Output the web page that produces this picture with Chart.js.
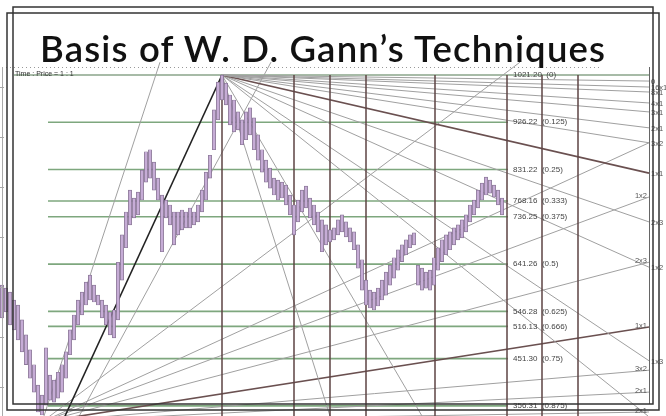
<!DOCTYPE html>
<html><head><meta charset="utf-8">
<script src="https://cdn.jsdelivr.net/npm/chart.js@4.4.0/dist/chart.umd.min.js"></script>
<style>
html,body{margin:0;padding:0;background:#fff;}
#wrap{position:relative;width:666px;height:416px;overflow:hidden;background:#fff;}
#c{position:absolute;left:0;top:0;}
#title{position:absolute;left:40px;top:24px;font-family:'Lato',sans-serif;font-size:36.5px;font-weight:600;color:#111;white-space:nowrap;line-height:1;}
</style></head>
<body><div id="wrap"><canvas id="c" width="666" height="416"></canvas><div id="title">Basis of W. D. Gann’s Techniques</div></div>
<script>
// ---- price bars (one bar per time unit) ----
const highs = [599,593,585,569,559,529,499,469,439,398,378,473,418,408,424,439,465,509,539,569,
  585,605,619,599,579,569,559,545,549,645,700,746,790,774,786,830,867,871,846,814,
  780,770,760,746,746,750,746,754,746,760,790,826,860,951,1007,1021,1005,981,971,947,
  931,947,955,935,901,871,850,834,814,810,806,800,780,760,770,790,798,774,760,746,
  730,720,710,714,730,740,726,714,706,680,650,609,589,585,593,609,625,639,654,670,
  680,690,700,704,639,633,625,629,654,674,690,700,706,714,720,730,740,760,770,790,
  804,816,810,800,790,774];
const lows = [533,545,519,509,489,465,439,412,384,344,338,358,368,364,372,384,412,459,489,519,
  539,559,569,565,559,533,519,499,493,529,609,674,720,734,740,770,806,814,790,770,
  666,734,720,680,700,710,714,714,720,726,746,770,814,871,931,971,961,921,907,911,
  881,891,901,871,850,826,806,794,780,770,774,760,740,700,726,746,754,734,720,706,
  666,680,686,690,700,706,696,686,670,633,589,559,553,549,557,569,579,599,613,629,
  646,660,674,680,599,589,593,589,599,629,646,660,670,680,690,694,706,726,740,754,
  770,780,784,776,760,740];
const days = highs.map((_, i) => i);

// ---- retracement levels ----
const levelPrices = [1021.20, 926.22, 831.22, 768.16, 736.25, 641.26, 546.28, 516.13, 451.30, 356.31];
const levelRatios = ['0', '0.125', '0.25', '0.333', '0.375', '0.5', '0.625', '0.666', '0.75', '0.875'];
const levelStartDay = 11.5, levelEndDay = 126.5;

// ---- time lines ----
const timeLineDays = [55, 73, 82, 91, 108.25, 126.25, 135, 144];

// ---- Gann fan from the high ----
const highPivotDay = 55, highPivotPrice = 1021.2;
const fanEndDay = 161.75;
const fanHighEndPrices = [1009, 997, 987, 965, 947, 915, 885, 824, 726, 635, 447];
const fanHighLabels = ['0', '16x1', '8x1', '4x1', '3x1', '2x1', '3x2', '1x1', '2x3', '1x2', '1x3'];
const fanHighFloorDays = [161.5, 105, 82];
const blackLineFloorDay = 15.75;

// ---- Gann fan from the low ----
const lowPivotDay = 10, lowPivotPrice = 324;
const fanLowEndPrices = [885, 776, 645, 515, 428, 384, 344];
const fanLowLabels = ['', '1x2', '2x3', '1x1', '3x2', '2x1', '2x1'];
const fanLowTopDays = [129.5, 39.5];
const secondLowDay = 18.5;
const secondLineTopDay = 67.25;

const priceMin = 336, priceMax = 1171.9, topPrice = 1047;

const datasets = [];
datasets.push({
  type: 'bar', order: 0,
  data: days.map((d, i) => ({x: d, y: [lows[i], highs[i]]})),
  backgroundColor: '#c6acd6', borderColor: '#7a6688', borderWidth: 0.7,
  barThickness: 3.2, borderSkipped: false
});
function seg(x1, y1, x2, y2, color, width, order) {
  datasets.push({type: 'line', order: order, data: [{x: x1, y: y1}, {x: x2, y: y2}],
    borderColor: color, borderWidth: width, pointRadius: 0, fill: false, tension: 0});
}
// levels
levelPrices.forEach((p, i) => {
  if (i === 0) seg(3, p, fanEndDay, p, '#8aa58a', 1.3, 5);
  else seg(levelStartDay, p, levelEndDay, p, '#7ea77e', 1.6, 5);
});
// fan from high
fanHighEndPrices.forEach((p, i) => {
  const dark = fanHighLabels[i] === '1x1';
  seg(highPivotDay, highPivotPrice, fanEndDay, p, dark ? '#6a5050' : '#a0a0a0', dark ? 1.6 : 1, 3);
});
fanHighFloorDays.forEach(d => seg(highPivotDay, highPivotPrice, d, priceMin, '#a0a0a0', 1, 3));
seg(highPivotDay, highPivotPrice, blackLineFloorDay, priceMin, '#222', 1.6, 2);
// fan from low
fanLowEndPrices.forEach((p, i) => {
  const dark = fanLowLabels[i] === '1x1';
  seg(lowPivotDay, lowPivotPrice, fanEndDay, p, dark ? '#6a5050' : '#a0a0a0', dark ? 1.6 : 1, 3);
});
fanLowTopDays.forEach(d => seg(lowPivotDay, lowPivotPrice, d, topPrice, '#a0a0a0', 1, 3));
seg(secondLowDay, lowPivotPrice, secondLineTopDay, topPrice, '#a0a0a0', 1, 3);
// time lines
timeLineDays.forEach(d => seg(d, highPivotPrice, d, priceMin, '#5e4444', 1.5, 1));

const decor = {
  id: 'decor',
  beforeDraw(chart) {
    const ctx = chart.ctx;
    ctx.save(); ctx.fillStyle = '#fff'; ctx.fillRect(0, 0, chart.width, chart.height); ctx.restore();
  },
  afterDatasetsDraw(chart) {
    const ctx = chart.ctx, xs = chart.scales.x, ys = chart.scales.y;
    ctx.save();
    // level labels
    ctx.font = '8px "Liberation Sans", Arial, sans-serif';
    ctx.fillStyle = '#444'; ctx.textBaseline = 'middle'; ctx.textAlign = 'left';
    levelPrices.forEach((p, i) => {
      ctx.fillText(p.toFixed(2) + '  (' + levelRatios[i] + ')', xs.getPixelForValue(levelEndDay) + 5, ys.getPixelForValue(p));
    });
    // fan labels
    ctx.font = '7.5px "Liberation Sans", Arial, sans-serif';
    ctx.fillStyle = '#555';
    const xe = xs.getPixelForValue(fanEndDay);
    fanHighEndPrices.forEach((p, i) => { ctx.textAlign = 'left'; ctx.fillText(fanHighLabels[i], xe + 2, ys.getPixelForValue(p) + 1); });
    fanLowEndPrices.forEach((p, i) => { ctx.textAlign = 'right'; ctx.fillText(fanLowLabels[i], xe - 2, ys.getPixelForValue(p) - 1); });
    // time:price note
    ctx.textAlign = 'left'; ctx.font = '7px "Liberation Sans", Arial, sans-serif'; ctx.fillStyle = '#333';
    ctx.fillText('Time : Price = 1 : 1', 15, 74);
    // dotted time axis
    ctx.strokeStyle = '#999'; ctx.lineWidth = 1; ctx.setLineDash([1, 3]);
    ctx.beginPath(); ctx.moveTo(2, 67.5); ctx.lineTo(600, 67.5); ctx.stroke();
    ctx.setLineDash([]);
    // left axis line
    ctx.strokeStyle = '#aaa';
    ctx.beginPath(); ctx.moveTo(2.5, 67); ctx.lineTo(2.5, 416); ctx.stroke();
    for (let y = 87; y < 410; y += 50) { ctx.beginPath(); ctx.moveTo(0, y + .5); ctx.lineTo(4, y + .5); ctx.stroke(); }
    // chart right border
    ctx.strokeStyle = '#666';
    ctx.beginPath(); ctx.moveTo(649.5, 67); ctx.lineTo(649.5, 404); ctx.stroke();
    // frames
    ctx.strokeStyle = '#333'; ctx.lineWidth = 1.5;
    ctx.strokeRect(13, 7, 640, 397);
    ctx.strokeRect(7, 13, 652, 397);
    ctx.restore();
  }
};

new Chart(document.getElementById('c'), {
  type: 'bar',
  data: {datasets},
  options: {
    responsive: false, animation: false, devicePixelRatio: 1,
    layout: {padding: 0},
    plugins: {legend: {display: false}, tooltip: {enabled: false}, title: {display: false}},
    scales: {
      x: {type: 'linear', min: -0.5, max: 166, display: false, offset: false, grid: {display: false}},
      y: {type: 'linear', min: priceMin, max: priceMax, display: false, grid: {display: false}}
    }
  },
  plugins: [decor]
});

// fit title to reference width with letter spacing, keeping cap height
const t = document.getElementById('title');
const fs = 36.5;
const w = t.getBoundingClientRect().width;
const n = t.textContent.length;
t.style.letterSpacing = ((565 - w) / (n - 1)).toFixed(2) + 'px';
t.style.top = (62 - 0.887 * fs).toFixed(1) + 'px';
</script>
</body></html>
